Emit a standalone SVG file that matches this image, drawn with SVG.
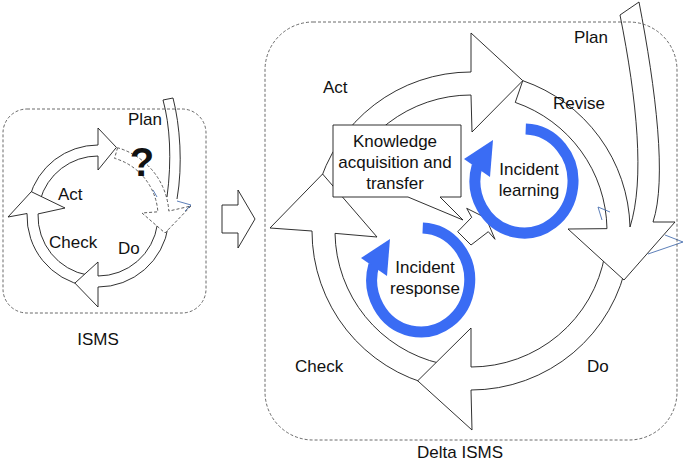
<svg xmlns="http://www.w3.org/2000/svg" width="685" height="463" viewBox="0 0 685 463">
<style>
.sh{fill:#fff;stroke:#1a1a1a;stroke-width:0.9;stroke-linejoin:miter}
.dsh{fill:#fff;stroke:#333;stroke-width:0.8;stroke-dasharray:3 2}
.frame{fill:none;stroke:#444;stroke-width:0.8;stroke-dasharray:3 2}
.blue{fill:none;stroke:#3a6cf4;stroke-width:11}
.bluehead{fill:#3a6cf4}
.ghost{fill:none;stroke:#4a70b0;stroke-width:0.9}
text{font-family:"Liberation Sans",Arial,Helvetica,sans-serif;font-size:17px;fill:#111}
.mid{text-anchor:middle}
</style>
<rect width="685" height="463" fill="#fff"/>

<!-- ISMS cycle (left) -->
<g id="isms-cycle">
  <path class="sh" d="M40.04,200.47 L29.42,197.62 A71 71 0 0 1 98,145 L98,128 L116.4,147.4 L98,170 L98,156 A60 60 0 0 0 40.04,200.47 Z"/>
  <path class="sh" d="M87.58,275.09 L85.67,285.92 A71 71 0 0 1 27.04,213.52 L8,217 L31.3,191.7 L65,208 L38.04,213.91 A60 60 0 0 0 87.58,275.09 Z"/>
  <path class="sh" d="M157.42,224.35 L168.31,225.88 A71 71 0 0 1 98,287 L98,307 L74.9,283.1 L98,262 L98,276 A60 60 0 0 0 157.42,224.35 Z"/>
  <path class="dsh" d="M117.57,147.75 L114.54,158.32 A60 60 0 0 1 157.85,211.81 L142,213 L165,233 L191,206 L168.83,211.05 A71 71 0 0 0 117.57,147.75 Z"/>
  <path class="sh" d="M167,197 C172,160 170,125 163,100 L173,98 C180,125 183,165 177,199"/>
  <polyline class="ghost" points="177,201 191,205 185,211"/>
  <line class="ghost" x1="153" y1="190" x2="157" y2="197"/>
</g>
<g id="isms-labels">
  <text x="128" y="125">Plan</text>
  <text x="142" y="176" class="mid" style="font-weight:bold;font-size:40px">?</text>
  <text x="58" y="200">Act</text>
  <text x="49" y="248">Check</text>
  <text x="118" y="254">Do</text>
</g>
<g id="isms">
  <rect class="frame" x="3" y="109" width="203" height="204" rx="24" ry="24"/>
  <text x="98" y="345" class="mid">ISMS</text>
</g>

<!-- transition arrow -->
<g id="transition">
  <polygon class="sh" points="222,205 238,205 238,190 255,219 238,248 238,233 222,233"/>
</g>

<!-- Delta ISMS cycle (right) -->
<g id="delta-cycle">
  <path class="sh" d="M339.63,195.80 L317.42,189.85 A159 159 0 0 1 471,72 L471,33 L522.77,80.66 L472,132 L471,95 A136 136 0 0 0 339.63,195.80 Z"/>
  <path class="sh" d="M440.41,363.51 L435.23,385.92 A159 159 0 0 1 312,231 L270,228 L322.6,174 L377,237 L335.02,233.37 A136 136 0 0 0 440.41,363.51 Z"/>
  <path class="sh" d="M604.93,254.62 L627.58,258.61 A159 159 0 0 1 471,390 L472,430 L417.7,380.8 L471,328 L471,367 A136 136 0 0 0 604.93,254.62 Z"/>
  <path class="sh" d="M522.77,80.66 L515.28,102.41 A136 136 0 0 1 606.98,228.63 L568,229 L624,280 L675,222 L653,222 C667,180 656,90 639,2 L620,15 C637,100 645,180 630,227 A159 159 0 0 0 522.77,80.66 Z"/>
  <polyline class="ghost" points="610,212 598,207 602,220"/>
  <polyline class="ghost" points="648,254 683,242 665,235"/>
</g>

<g id="connectors">
  <polygon class="sh" points="457.7,231.7 471.7,217.3 466.7,208.3 486,218 495,239.3 488.3,231.7 471,245"/>
</g>

<g id="knowledge">
  <path class="sh" d="M333,125 H461 V197 H440 L463,220 L408,197 H333 Z"/>
  <text x="395" y="147" class="mid">Knowledge</text>
  <text x="395" y="168" class="mid">acquisition and</text>
  <text x="395" y="189" class="mid">transfer</text>
</g>

<g id="incident-learning">
  <path class="blue" d="M525.71,129.03 A49 52 0 1 1 477.14,165.80"/>
  <polygon class="bluehead" points="493,140 464,159 490,177"/>
  <text x="529" y="175" class="mid">Incident</text>
  <text x="529" y="196" class="mid">learning</text>
</g>

<g id="incident-response">
  <path class="blue" d="M422.71,228.03 A49 52 0 1 1 373.86,264.80"/>
  <polygon class="bluehead" points="390,239 361,258 387,276"/>
  <text x="425" y="273" class="mid">Incident</text>
  <text x="425" y="294" class="mid">response</text>
</g>

<g id="delta-labels">
  <text x="574" y="43">Plan</text>
  <text x="323" y="93">Act</text>
  <text x="553" y="109">Revise</text>
  <text x="295" y="372">Check</text>
  <text x="587" y="372">Do</text>
</g>

<g id="delta-isms">
  <rect class="frame" x="265" y="22" width="412" height="418" rx="48" ry="48"/>
  <text x="460" y="458" class="mid">Delta ISMS</text>
</g>
</svg>
